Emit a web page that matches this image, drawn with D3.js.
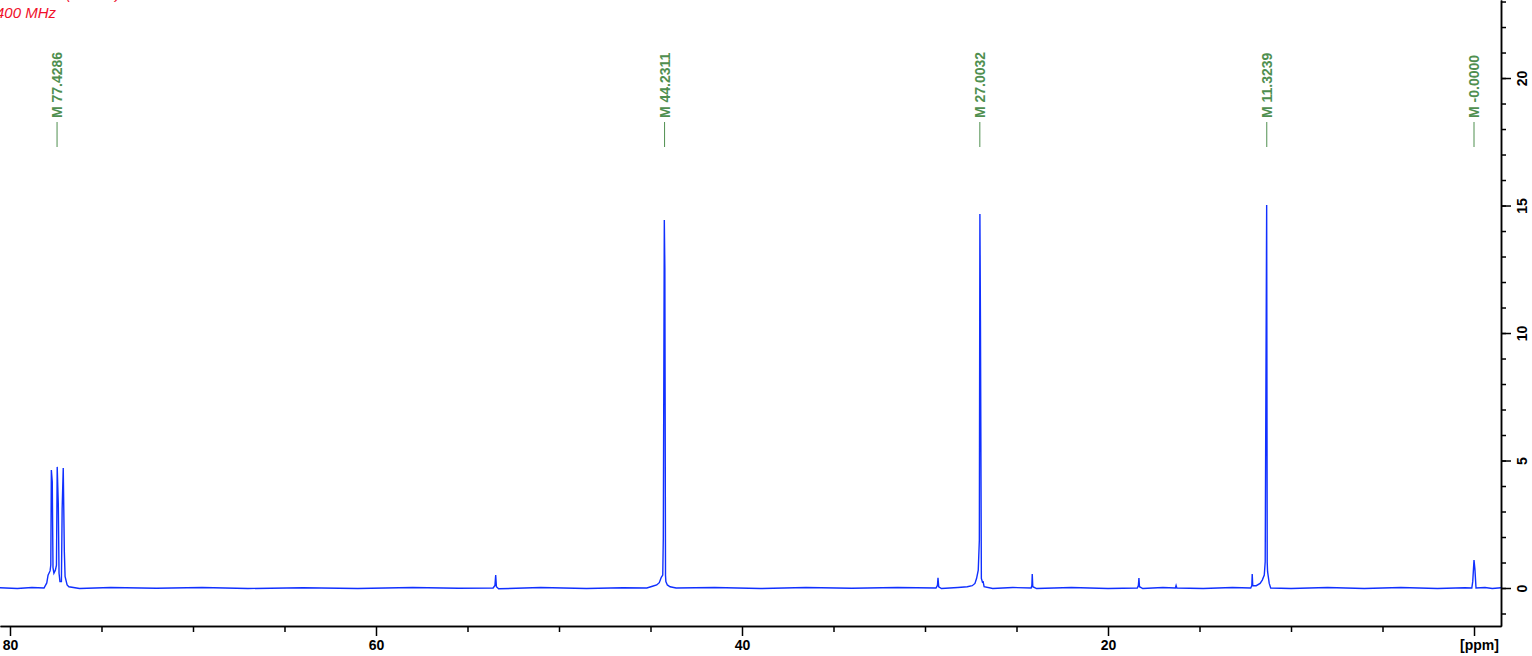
<!DOCTYPE html>
<html>
<head>
<meta charset="utf-8">
<script src="https://cdn.jsdelivr.net/npm/d3@7"></script>
<style>
  body { margin: 0; background: #fff; overflow: hidden; }
  svg { display: block; font-family: "Liberation Sans", Arial, sans-serif; }
</style>
</head>
<body>
<svg id="nmr" width="1532" height="656"></svg>
<script>
// spectrum: [ppm, intensity]
var spectrum = [
  [80.55, 0.01], [79.6, -0.02], [78.8, 0.02], [78.14, 0.0],
  // CDCl3 triplet
  [77.99, 0.2], [77.92, 0.5], [77.81, 0.67], [77.77, 0.9], [77.74, 4.63], [77.69, 4.17],
  [77.65, 0.8], [77.60, 0.58], [77.52, 0.7], [77.46, 0.9], [77.42, 4.75], [77.36, 3.28],
  [77.32, 0.58], [77.27, 0.25], [77.19, 0.25], [77.15, 3.1], [77.09, 4.71], [77.03, 1.42],
  [76.99, 0.45], [76.88, 0.12], [76.78, 0.05], [76.2, -0.02], [74.5, 0.02], [72.0, -0.01],
  [69.5, 0.02], [67.0, -0.02], [64.0, 0.01], [61.0, -0.02], [58.0, 0.02], [55.5, -0.01],
  // small peak ~53.5
  [53.6, 0.0], [53.50, 0.1], [53.46, 0.51], [53.42, 0.05], [53.3, -0.03], [51.0, 0.02],
  [48.5, -0.02], [46.5, 0.01], [45.2, 0.0],
  // 44.2311
  [44.85, 0.08], [44.66, 0.12], [44.52, 0.21], [44.41, 0.42], [44.33, 0.51], [44.30, 1.96],
  [44.245, 14.43], [44.215, 12.5], [44.18, 0.5], [44.16, 0.25], [44.08, 0.12], [43.93, 0.05],
  [43.6, 0.0], [41.5, 0.02], [39.0, -0.02], [36.5, 0.02], [34.0, -0.01], [31.5, 0.02],
  // small peak ~29.3
  [29.4, 0.0], [29.32, 0.1], [29.29, 0.4], [29.25, 0.05], [29.1, -0.02], [28.2, 0.02],
  // 27.0032
  [27.69, 0.05], [27.42, 0.09], [27.27, 0.18], [27.18, 0.38], [27.09, 0.7], [27.03, 1.88],
  [27.00, 14.67], [26.97, 10.5], [26.92, 0.38], [26.85, 0.2], [26.83, 0.27], [26.77, 0.05],
  [26.3, -0.02], [25.2, 0.02],
  // small peak ~24.1
  [24.2, 0.0], [24.16, 0.1], [24.14, 0.55], [24.11, 0.05], [23.9, -0.02], [22.0, 0.02],
  [20.0, -0.02],
  // small peak ~18.3
  [18.4, 0.0], [18.34, 0.1], [18.31, 0.39], [18.28, 0.05], [18.1, -0.02], [17.0, 0.02],
  [16.32, 0.0], [16.28, 0.1], [16.24, 0.0], [14.8, -0.02], [13.2, 0.02],
  // small peak ~12.1
  [12.2, 0.0], [12.14, 0.1], [12.12, 0.55], [12.09, 0.09], [11.9, 0.09], [11.69, 0.18],
  // 11.3239
  [11.57, 0.31], [11.46, 0.51], [11.41, 1.03], [11.33, 15.02], [11.30, 1.0], [11.28, 0.64],
  [11.19, 0.18], [11.11, 0.0], [10.0, -0.02], [8.0, 0.02], [6.0, -0.02], [4.0, 0.02],
  [2.0, -0.02], [0.5, 0.01],
  // TMS
  [0.12, 0.0], [0.07, 0.25], [0.0, 1.1], [-0.05, 0.73], [-0.11, 0.0], [-0.6, 0.02],
  [-1.0, -0.02], [-1.475, 0.01]
];

// peak picking labels
var peakLabels = [77.4286, 44.2311, 27.0032, 11.3239, -0.0000];

var xMajor = [80, 60, 40, 20, 0];
var xMinor = [75, 70, 65, 55, 50, 45, 35, 30, 25, 15, 10, 5];
var yMajor = [0, 5, 10, 15, 20];
var yMinor = d3.range(-1, 24);

var titleLines = ["13C NMR (CDCl3)", "400 MHz"];

var svg = d3.select("#nmr");

// plot frame: spectrum runs from 0 to 1501 horizontally, axis at bottom 626
var x = d3.scaleLinear().domain([80.546, -1.475]).range([0, 1501]);
var y = d3.scaleLinear().domain([-1.49, 23.06]).range([626, 0]);

// title text (red, partly cut by the top edge)
svg.selectAll("text.title")
    .data(titleLines)
    .enter()
    .append("text")
    .attr("class", "title")
    .attr("x", -4)
    .attr("y", function(d, i) { return -1 + i * 19; })
    .attr("font-size", 15)
    .attr("font-style", "italic")
    .attr("fill", "#f0102a")
    .text(function(d) { return d; });

// spectrum line
var line = d3.line()
    .x(function(d) { return x(d[0]); })
    .y(function(d) { return y(d[1]); });

svg.append("path")
    .datum(spectrum)
    .attr("d", line)
    .attr("fill", "none")
    .attr("stroke", "#1030ff")
    .attr("stroke-width", 1.4)
    .attr("stroke-linejoin", "miter");

// peak labels
var labels = svg.append("g").selectAll("g")
    .data(peakLabels)
    .enter()
    .append("g")
    .attr("transform", function(d) { return "translate(" + x(d) + ",0)"; });

labels.append("line")
    .attr("x1", 0).attr("x2", 0)
    .attr("y1", 122).attr("y2", 147)
    .attr("stroke", "#4f8f4f")
    .attr("stroke-width", 1);

labels.append("text")
    .attr("transform", "translate(0,118) rotate(-90)")
    .attr("dominant-baseline", "central")
    .attr("font-size", 14)
    .attr("font-weight", "bold")
    .attr("fill", "#4f8f4f")
    .text(function(d) { return "M " + d.toFixed(4).replace(/^0\.0000$/, "-0.0000"); });

// x axis
var xAxisMinor = d3.axisBottom(x).tickValues(xMinor).tickSize(6).tickSizeOuter(0).tickFormat("");
var xAxis = d3.axisBottom(x).tickValues(xMajor).tickSize(10).tickSizeOuter(0)
    .tickFormat(function(d) { return d === 0 ? "[ppm]" : d; });

svg.append("g").attr("transform", "translate(0,626)").call(xAxisMinor);
var gx = svg.append("g").attr("transform", "translate(0,626)").call(xAxis);
gx.selectAll("text")
    .attr("y", 14)
    .attr("dx", function(d) { return d === 0 ? 5 : 0; })
    .attr("font-size", 14)
    .attr("font-weight", "bold")
    .attr("font-family", "Liberation Sans, Arial, sans-serif")
    .attr("fill", "#000");

// y axis on the right
var yAxisMinor = d3.axisRight(y).tickValues(yMinor).tickSize(5).tickSizeOuter(0).tickFormat("");
var yAxis = d3.axisRight(y).tickValues(yMajor).tickSize(10).tickSizeOuter(0);

svg.append("g").attr("transform", "translate(1501,0)").call(yAxisMinor);
var gy = svg.append("g").attr("transform", "translate(1501,0)").call(yAxis);
gy.selectAll("text")
    .attr("x", null)
    .attr("dy", null)
    .attr("transform", "translate(21,0) rotate(-90)")
    .attr("text-anchor", "middle")
    .attr("dominant-baseline", "central")
    .attr("font-size", 14)
    .attr("font-weight", "bold")
    .attr("font-family", "Liberation Sans, Arial, sans-serif")
    .attr("fill", "#000");

svg.selectAll(".domain, .tick line")
    .attr("stroke", "#000")
    .attr("stroke-width", 1.5);
</script>
</body>
</html>
